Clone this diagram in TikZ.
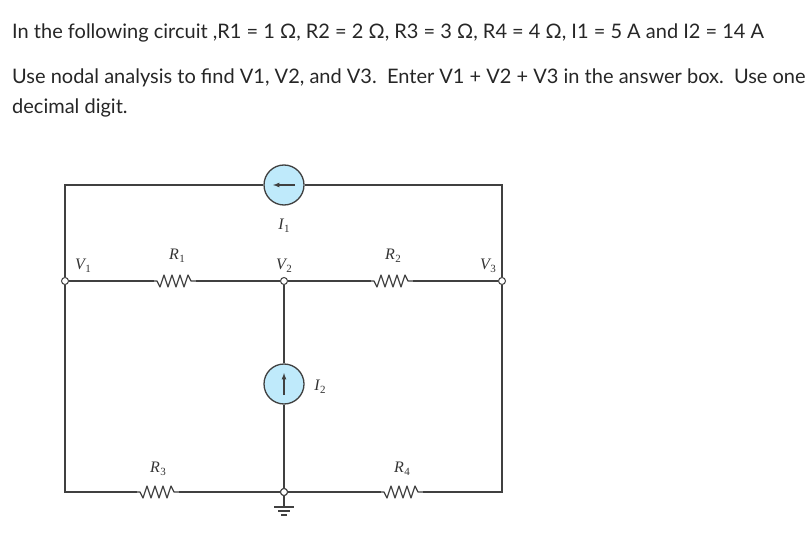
\documentclass[tikz,border=0pt]{standalone}
\usepackage{fontspec}
\setmainfont{Lato}
\newfontfamily\serifit{Liberation Serif}
\newcommand{\lbl}[2]{{\serifit\itshape #1}\kern0.5pt\raisebox{-3pt}{\serifit\fontsize{11}{11}\selectfont #2}}
\begin{document}
\begin{tikzpicture}[x=1pt,y=-1pt,
  wire/.style={draw=black!75,line width=1.2pt},
  src/.style={circle,draw=black!75,line width=1.3pt,fill=cyan!25,minimum size=40pt,inner sep=0pt},
  term/.style={circle,draw=black!75,line width=1pt,fill=white,minimum size=7pt,inner sep=0pt},
  lab/.style={font=\fontsize{16}{16}\selectfont,text=black!80,inner sep=0pt},
  txt/.style={anchor=west,font=\fontsize{20}{24}\selectfont,inner sep=0pt,text=black!85}]
\useasboundingbox (0,0) rectangle (810,537);
\node[txt] (t1) at (12,33) {In the following circuit ,R1 = 1 Ω, R2 = 2 Ω, R3 = 3 Ω, R4 = 4 Ω, I1 = 5 A and I2 = 14 A};
\node[txt] (t2) at (12,78) {Use nodal analysis to find V1, V2, and V3.\ \ Enter V1 + V2 + V3 in the answer box.\ \ Use one};
\node[txt] (t3) at (12,108) {decimal digit.};
% nodes
\node[term] (n1) at (65,281) {};
\node[term] (n2) at (284,281) {};
\node[term] (n3) at (502,281) {};
\node[term] (n0) at (284,492) {};
\coordinate (tl) at (65,185);
\coordinate (tr) at (502,185);
\coordinate (bl) at (65,492);
\coordinate (br) at (502,492);
\node[src] (s1) at (284,185) {};
\node[src] (s2) at (284,384) {};
\draw[wire,-latex] ([xshift=11pt]s1.center) -- ([xshift=-11pt]s1.center);
\draw[wire,-latex] ([yshift=-11pt]s2.center) -- ([yshift=11pt]s2.center);
% wires
\draw[wire] (s1.west) -- (tl) -- (n1.north);
\draw[wire] (s1.east) -- (tr) -- (n3.north);
\draw[wire] (n1.south) -- (bl) -- (br) -- (n3.south);
\draw[wire] (n2.south) -- (s2.north);
\draw[wire] (s2.south) -- (n0.north);
\draw[wire] (n1.east) -- (n2.west);
\draw[wire] (n2.east) -- (n3.west);
% resistors
\foreach \x/\y in {155/281,372/281,138/492,382/492}{
  \fill[white] (\x-1,\y-6) rectangle (\x+41,\y+6);
  \draw[wire,line join=round] (\x-2,\y) -- (\x+2,\y) -- (\x+5,\y+6) -- (\x+9,\y-6) -- (\x+13,\y+6) -- (\x+17,\y-6) -- (\x+21,\y+6) -- (\x+25,\y-6) -- (\x+29,\y+6) -- (\x+33,\y-6)-- (\x+36,\y)--(\x+42,\y);
}
\node[term] at (284,492) {};
% ground
\draw[wire] (n0.south) -- (284,507);
\draw[wire] (274,507) -- (294,507);
\draw[wire] (278,511) -- (290,511);
\draw[wire] (281,515) -- (287,515);
% labels
\node[lab] (lI1) at (284,226) {\lbl{I}{1}};
\node[lab] (lI2) at (320,387) {\lbl{I}{2}};
\node[lab] (lV1) at (83,266) {\lbl{V}{1}};
\node[lab] (lV2) at (284,266) {\lbl{V}{2}};
\node[lab] (lV3) at (488,266) {\lbl{V}{3}};
\node[lab] (lR1) at (177,256) {\lbl{R}{1}};
\node[lab] (lR2) at (393,256) {\lbl{R}{2}};
\node[lab] (lR3) at (158,469) {\lbl{R}{3}};
\node[lab] (lR4) at (402,469) {\lbl{R}{4}};
\end{tikzpicture}
\end{document}
